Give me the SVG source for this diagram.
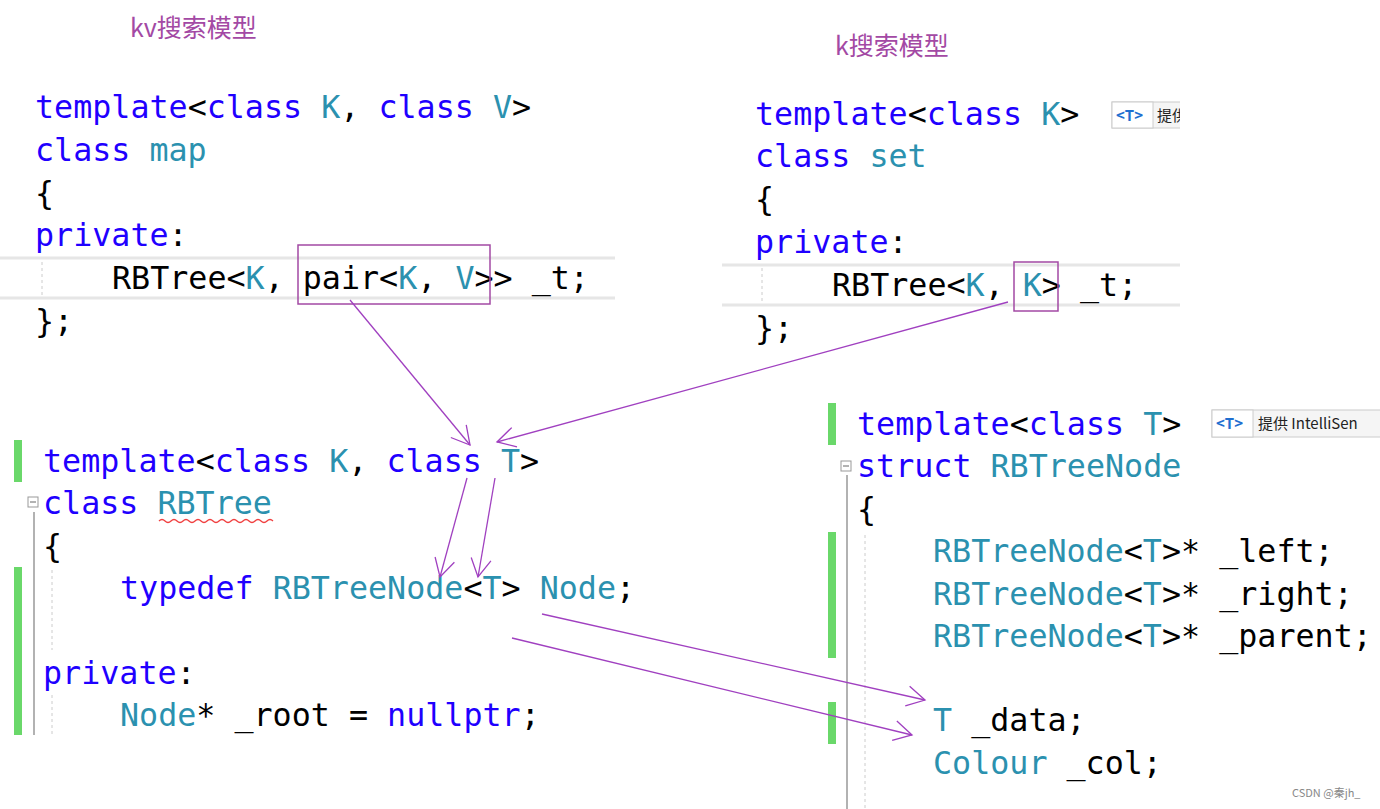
<svg xmlns="http://www.w3.org/2000/svg" width="1380" height="809" viewBox="0 0 1380 809">
<style>
.c{font-family:"DejaVu Sans Mono","Liberation Mono",monospace;font-size:31.7px;fill:#000}
.k{fill:#1f00ff}.t{fill:#2b91af}
.ttl{font-family:"Noto Sans CJK SC",sans-serif;font-size:25px;fill:#a349a4}
.g{fill:#6ad86a}
.hl{stroke:#e6e6e6;stroke-width:3}
.box{fill:none;stroke:#a349a4;stroke-width:1.5}
.ar{fill:none;stroke:#a040c0;stroke-width:1.3}
.tip{font-family:"Noto Sans CJK SC",sans-serif;font-size:15px;fill:#222}
</style>
<defs><marker id="h" markerWidth="24" markerHeight="24" refX="20" refY="12" orient="auto" markerUnits="userSpaceOnUse"><path d="M2 2 L20 12 L2 22" fill="none" stroke="#a040c0" stroke-width="1.3"/></marker>
<clipPath id="cp"><rect x="1100" y="95" width="80" height="40"/></clipPath></defs>
<rect width="1380" height="809" fill="#fff"/>
<text class="ttl" x="130" y="37">kv搜索模型</text>
<text class="ttl" x="835" y="55">k搜索模型</text>
<g id="map">
<line class="hl" x1="0" y1="258" x2="615" y2="258"/><line class="hl" x1="0" y1="298" x2="615" y2="298"/>
<line x1="42" y1="262" x2="42" y2="296" stroke="#ccc" stroke-dasharray="3 3"/>
<text class="c" x="35" y="118"><tspan class="k">template</tspan>&lt;<tspan class="k">class</tspan> <tspan class="t">K</tspan>, <tspan class="k">class</tspan> <tspan class="t">V</tspan>&gt;</text>
<text class="c" x="35" y="161"><tspan class="k">class</tspan> <tspan class="t">map</tspan></text>
<text class="c" x="35" y="204">{</text>
<text class="c" x="35" y="246"><tspan class="k">private</tspan>:</text>
<text class="c" x="112" y="289">RBTree&lt;<tspan class="t">K</tspan>, pair&lt;<tspan class="t">K</tspan>, <tspan class="t">V</tspan>&gt;&gt; _t;</text>
<text class="c" x="35" y="332">};</text>
<rect class="box" x="298" y="245" width="192" height="59"/>
</g>
<g id="set">
<line class="hl" x1="722" y1="265" x2="1180" y2="265"/><line class="hl" x1="722" y1="305" x2="1180" y2="305"/>
<line x1="762" y1="268" x2="762" y2="303" stroke="#ccc" stroke-dasharray="3 3"/>
<text class="c" x="755" y="125"><tspan class="k">template</tspan>&lt;<tspan class="k">class</tspan> <tspan class="t">K</tspan>&gt;</text>
<text class="c" x="755" y="167"><tspan class="k">class</tspan> <tspan class="t">set</tspan></text>
<text class="c" x="755" y="210">{</text>
<text class="c" x="755" y="253"><tspan class="k">private</tspan>:</text>
<text class="c" x="832" y="296">RBTree&lt;<tspan class="t">K</tspan>, <tspan class="t">K</tspan>&gt; _t;</text>
<text class="c" x="755" y="339">};</text>
<rect class="box" x="1014" y="262" width="44" height="49"/>
<g clip-path="url(#cp)">
<rect x="1112" y="102" width="80" height="26" fill="#f5f5f5" stroke="#ccc"/>
<rect x="1112" y="102" width="41" height="26" fill="#fff" stroke="#ccc"/>
<text class="tip" x="1116" y="121" style="fill:#1f6fd0;font-weight:bold">&lt;T&gt;</text>
<text class="tip" x="1157" y="121">提供</text>
</g>
</g>
<g id="rbtree">
<rect class="g" x="14" y="440" width="8" height="42"/><rect class="g" x="14" y="567" width="8" height="168"/>
<line x1="34" y1="512" x2="34" y2="735" stroke="#999" stroke-width="1.5"/>
<rect x="28" y="497" width="10" height="10" fill="#fff" stroke="#999"/><line x1="30" y1="502" x2="36" y2="502" stroke="#666"/>
<line x1="52" y1="570" x2="52" y2="650" stroke="#ccc" stroke-dasharray="3 3"/><line x1="52" y1="695" x2="52" y2="735" stroke="#ccc" stroke-dasharray="3 3"/>
<text class="c" x="43" y="472"><tspan class="k">template</tspan>&lt;<tspan class="k">class</tspan> <tspan class="t">K</tspan>, <tspan class="k">class</tspan> <tspan class="t">T</tspan>&gt;</text>
<text class="c" x="43" y="514"><tspan class="k">class</tspan> <tspan class="t">RBTree</tspan></text>
<path d="M159 521 q3 -3 6 0 t6 0 t6 0 t6 0 t6 0 t6 0 t6 0 t6 0 t6 0 t6 0 t6 0 t6 0 t6 0 t6 0 t6 0 t6 0 t6 0 t6 0 t6 0" fill="none" stroke="#f04040" stroke-width="1.3"/>
<text class="c" x="43" y="557">{</text>
<text class="c" x="120" y="599"><tspan class="k">typedef</tspan> <tspan class="t">RBTreeNode</tspan>&lt;<tspan class="t">T</tspan>&gt; <tspan class="t">Node</tspan>;</text>
<text class="c" x="43" y="684"><tspan class="k">private</tspan>:</text>
<text class="c" x="120" y="726"><tspan class="t">Node</tspan>* _root = <tspan class="k">nullptr</tspan>;</text>
</g>
<g id="rbtreenode">
<rect class="g" x="828" y="403" width="8" height="42"/><rect class="g" x="828" y="532" width="8" height="126"/><rect class="g" x="828" y="702" width="8" height="42"/>
<line x1="847" y1="475" x2="847" y2="809" stroke="#999" stroke-width="1.5"/>
<rect x="841" y="461" width="10" height="10" fill="#fff" stroke="#999"/><line x1="843" y1="466" x2="849" y2="466" stroke="#666"/>
<line x1="865" y1="535" x2="865" y2="809" stroke="#ccc" stroke-dasharray="3 3"/>
<text class="c" x="857" y="435"><tspan class="k">template</tspan>&lt;<tspan class="k">class</tspan> <tspan class="t">T</tspan>&gt;</text>
<text class="c" x="857" y="477"><tspan class="k">struct</tspan> <tspan class="t">RBTreeNode</tspan></text>
<text class="c" x="857" y="520">{</text>
<text class="c" x="933" y="562"><tspan class="t">RBTreeNode</tspan>&lt;<tspan class="t">T</tspan>&gt;* _left;</text>
<text class="c" x="933" y="605"><tspan class="t">RBTreeNode</tspan>&lt;<tspan class="t">T</tspan>&gt;* _right;</text>
<text class="c" x="933" y="647"><tspan class="t">RBTreeNode</tspan>&lt;<tspan class="t">T</tspan>&gt;* _parent;</text>
<text class="c" x="933" y="731"><tspan class="t">T</tspan> _data;</text>
<text class="c" x="933" y="774"><tspan class="t">Colour</tspan> _col;</text>
<rect x="1212" y="410" width="170" height="27" fill="#f5f5f5" stroke="#ccc"/>
<rect x="1212" y="410" width="41" height="27" fill="#fff" stroke="#ccc"/>
<text class="tip" x="1216" y="429" style="fill:#1f6fd0;font-weight:bold">&lt;T&gt;</text>
<text class="tip" x="1258" y="429">提供 IntelliSen</text>
</g>
<g id="connectors">
<line class="ar" x1="350" y1="300" x2="470" y2="445" marker-end="url(#h)"/>
<line class="ar" x1="1008" y1="302" x2="497" y2="442" marker-end="url(#h)"/>
<line class="ar" x1="467" y1="478" x2="440" y2="577" marker-end="url(#h)"/>
<line class="ar" x1="495" y1="478" x2="478" y2="577" marker-end="url(#h)"/>
<line class="ar" x1="542" y1="614" x2="925" y2="700" marker-end="url(#h)"/>
<line class="ar" x1="512" y1="638" x2="912" y2="735" marker-end="url(#h)"/>
</g>
<text x="1292" y="797" style="font-family:'Noto Sans CJK SC',sans-serif;font-size:11px;fill:#888">CSDN @秦jh_</text>
</svg>
